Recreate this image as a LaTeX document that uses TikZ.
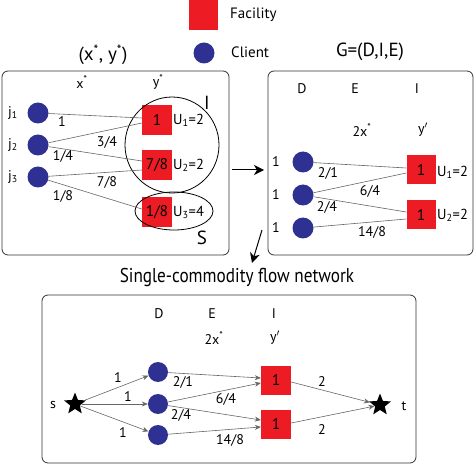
\documentclass[tikz,border=0pt]{standalone}
\usepackage{fontspec}
\setmainfont{PT Sans}
\usetikzlibrary{shapes.geometric,arrows.meta,calc}
\definecolor{fred}{RGB}{237,28,36}
\definecolor{cblue}{RGB}{46,49,146}
\newcommand\myfs[1]{\fontsize{#1}{#1}\selectfont}
\begin{document}
\begin{tikzpicture}[x=1pt,y=-1pt,
  client/.style={circle,fill=cblue,minimum size=21pt,inner sep=0pt},
  fac/.style={rectangle,fill=fred,minimum width=30pt,minimum height=30pt,inner sep=0pt,font=\myfs{15.5}},
  lbl/.style={inner sep=0pt,font=\myfs{14}},
  big/.style={inner sep=0pt,font=\myfs{19}},
  ulbl/.style={inner sep=0pt,anchor=west,font=\myfs{14.5}},
  edge/.style={draw=black!60,line width=0.6pt},
  arr/.style={edge,-{Stealth[length=6pt,width=5pt]}},
  bigarr/.style={draw=black,line width=1pt,-{Stealth[length=10pt,width=10pt,inset=3pt]}},
  panel/.style={draw=black!80,rounded corners=6pt,line width=0.8pt},
  starnode/.style={star,star points=5,star point ratio=2.3,fill=black,minimum size=23pt,inner sep=0pt}]
\useasboundingbox (0,0) rectangle (474,465);
% legend
\node[fac,minimum width=29pt] (legf) at (203.5,15) {};
\node[lbl,anchor=west,font=\myfs{15}] (legft) at (230,15) {Facility};
\node[client] (legc) at (204,53) {};
\node[lbl,anchor=west,font=\myfs{15}] (legct) at (231,52) {Client};
% titles
\node[big] (t1) at (103,55) {(x\textsuperscript{*}, y\textsuperscript{*})};
\node[big] (t2) at (370,52) {G=(D,I,E)};
% left panel
\node[panel,minimum width=227pt,minimum height=184pt] (p1) at (115.5,163) {};
\node[lbl] (hx) at (82,82) {x\textsuperscript{*}};
\node[lbl] (hy) at (158,82) {y\textsuperscript{*}};
\node[client] (j1) at (38,113) {};
\node[client] (j2) at (38,145) {};
\node[client] (j3) at (38,177) {};
\node[lbl] (lj1) at (13,113) {j\textsubscript{1}};
\node[lbl] (lj2) at (13,145) {j\textsubscript{2}};
\node[lbl] (lj3) at (13,177) {j\textsubscript{3}};
\node[fac] (f1) at (157,120) {1};
\node[fac] (f2) at (157,165) {7/8};
\node[fac] (f3) at (157,212) {1/8};
\node[ulbl] (u1) at (173,120) {U\textsubscript{1}=2};
\node[ulbl] (u2) at (173,165) {U\textsubscript{2}=2};
\node[ulbl] (u3) at (173,212) {U\textsubscript{3}=4};
\draw[line width=0.8pt] (172,145) ellipse [x radius=47, y radius=48];
\draw[line width=0.8pt] (174,211) ellipse [x radius=39, y radius=19];
\node[big] (lI) at (207,103) {I};
\node[big] (lS) at (202,238) {S};
\draw[edge] (j1) -- ($(f1.west)+(0,-2)$);
\draw[edge] (j2) -- ($(f1.west)+(0,3)$);
\draw[edge] (j2) -- ($(f2.west)+(0,-4)$);
\draw[edge] (j3) -- ($(f2.west)+(0,5)$);
\draw[edge] (j3) -- ($(f3.west)+(0,-3)$);
\node[lbl] (e1) at (62,122) {1};
\node[lbl] (e2) at (107,142) {3/4};
\node[lbl] (e3) at (63,156) {1/4};
\node[lbl] (e4) at (107,182) {7/8};
\node[lbl] (e5) at (63,196) {1/8};
% arrows between panels
\coordinate (a1s) at (232,170);
\coordinate (a1e) at (264,170);
\draw[bigarr] (a1s) -- (a1e);
\coordinate (a2s) at (262,230);
\coordinate (a2e) at (252,263);
\draw[bigarr] (a2s) -- (a2e);
% right panel
\node[panel,minimum width=205pt,minimum height=184pt] (p2) at (370.5,163) {};
\node[lbl] (hD) at (302,89) {D};
\node[lbl] (hE) at (355,89) {E};
\node[lbl] (hI) at (417,89) {I};
\node[lbl] (h2x) at (362,130) {2x\textsuperscript{*}};
\node[lbl] (hyp) at (423,130) {y\textsuperscript{$\prime$}};
\node[lbl] (o1) at (276,162) {1};
\node[lbl] (o2) at (276,195) {1};
\node[lbl] (o3) at (276,228) {1};
\node[client] (d1) at (303,162) {};
\node[client] (d2) at (303,195) {};
\node[client] (d3) at (303,228) {};
\node[fac,minimum width=29pt,minimum height=29pt] (g1) at (421,170) {1};
\node[fac,minimum width=29pt,minimum height=29pt] (g2) at (421,215) {1};
\node[ulbl] (v1) at (437,172) {U\textsubscript{1}=2};
\node[ulbl] (v2) at (437,215) {U\textsubscript{2}=2};
\draw[edge] (d1) -- ($(g1.west)+(0,-2)$);
\draw[edge] (d2) -- ($(g1.west)+(0,3)$);
\draw[edge] (d2) -- ($(g2.west)+(0,-3)$);
\draw[edge] (d3) -- ($(g2.west)+(0,4)$);
\node[lbl] (r1) at (328,173) {2/1};
\node[lbl] (r2) at (370,191) {6/4};
\node[lbl] (r3) at (327,207) {2/4};
\node[lbl] (r4) at (372,232) {14/8};
% bottom
\node[inner sep=0pt,font=\myfs{20}] (t3) at (237,278) {\scalebox{0.86}[1]{Single-commodity flow network}};
\node[panel,minimum width=374pt,minimum height=168pt] (p3) at (229,379) {};
\node[lbl] (bD) at (159,314) {D};
\node[lbl] (bE) at (212,314) {E};
\node[lbl] (bI) at (274,314) {I};
\node[lbl] (b2x) at (214,338) {2x\textsuperscript{*}};
\node[lbl] (byp) at (275,338) {y\textsuperscript{$\prime$}};
\node[lbl] (ls) at (53,405) {s};
\node[lbl] (lt) at (404,406) {t};
\node[starnode] (s) at (75,404) {};
\node[starnode] (t) at (380,405) {};
\node[client,minimum size=20pt] (c1) at (158,372) {};
\node[client,minimum size=20pt] (c2) at (158,404) {};
\node[client,minimum size=20pt] (c3) at (158,435) {};
\node[fac,minimum height=29pt] (h1) at (276,380) {1};
\node[fac,minimum height=29pt] (h2) at (276,424) {1};
\draw[arr] (s) -- (c1);
\draw[arr] (s) -- (c2);
\draw[arr] (s) -- (c3);
\draw[arr] (c1) -- ($(h1.west)+(0,-2)$);
\draw[arr] (c2) -- ($(h1.west)+(0,3)$);
\draw[arr] (c2) -- ($(h2.west)+(0,-4)$);
\draw[arr] (c3) -- ($(h2.west)+(0,3)$);
\draw[arr] ($(h1.east)+(0,2)$) -- (t);
\draw[arr] ($(h2.east)+(0,-1)$) -- (t);
\node[lbl] (k1) at (118,378) {1};
\node[lbl] (k2) at (128,397) {1};
\node[lbl] (k3) at (123,433) {1};
\node[lbl] (k4) at (183,382) {2/1};
\node[lbl] (k5) at (226,399) {6/4};
\node[lbl] (k6) at (181,415) {2/4};
\node[lbl] (k7) at (230,440) {14/8};
\node[lbl] (k8) at (322,382) {2};
\node[lbl] (k9) at (322,430) {2};
\end{tikzpicture}
\end{document}
